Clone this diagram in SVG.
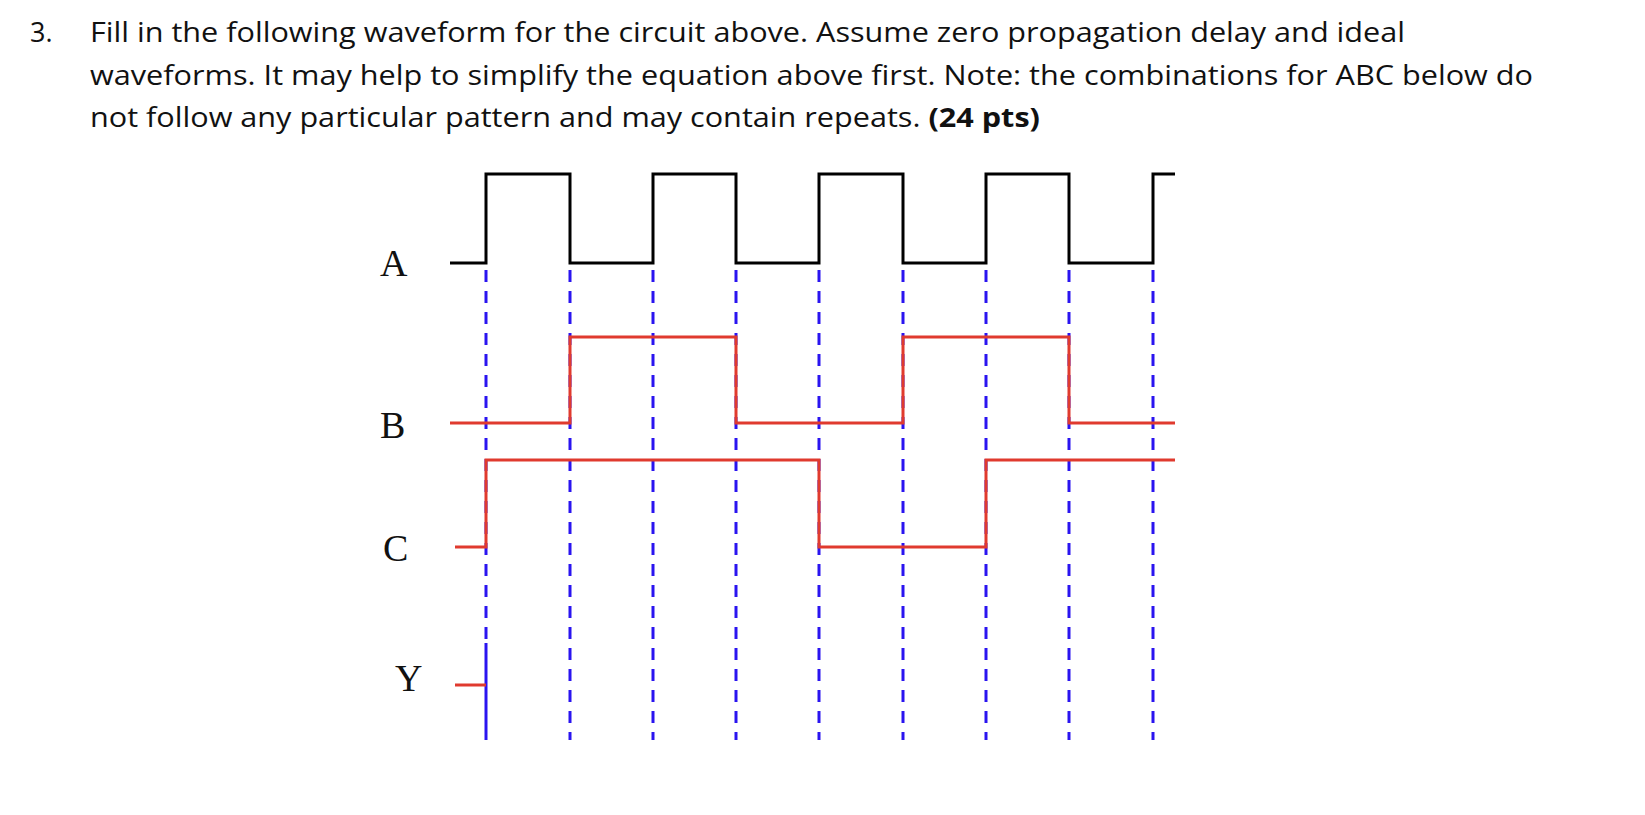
<svg xmlns="http://www.w3.org/2000/svg" width="1645" height="815" viewBox="0 0 1645 815">
<style>
.t{font-family:"Open Sans","Liberation Sans",sans-serif;font-size:27px;fill:#111}
.l{font-family:"Liberation Serif",serif;font-size:38px;fill:#111}
.d{stroke:#2a14f0;stroke-width:3;stroke-dasharray:12,9;fill:none}
.k{stroke:#000;stroke-width:3;fill:none}
.r{stroke:#e03a2e;stroke-width:3;fill:none}
</style>
<rect width="1645" height="815" fill="#fff"/>
<text class="t" x="30" y="42">3.</text>
<text class="t" x="90" y="42" textLength="1315" lengthAdjust="spacingAndGlyphs">Fill in the following waveform for the circuit above. Assume zero propagation delay and ideal</text>
<text class="t" x="90" y="85" textLength="1443" lengthAdjust="spacingAndGlyphs">waveforms. It may help to simplify the equation above first. Note: the combinations for ABC below do</text>
<text class="t" x="90" y="127" textLength="950" lengthAdjust="spacingAndGlyphs">not follow any particular pattern and may contain repeats. <tspan font-weight="bold">(24 pts)</tspan></text>
<g id="grid">
<path class="d" d="M486 270V640M570 270V740M653 270V740M736 270V740M819 270V740M903 270V740M986 270V740M1069 270V740M1153 270V740"/>
<path d="M486 643V740" stroke="#2a14f0" stroke-width="3"/>
</g>
<g id="waves">
<path class="k" d="M450 263H486V174H570V263H653V174H736V263H819V174H903V263H986V174H1069V263H1153V174H1175"/>
<path class="r" d="M450 423H570V337H736V423H903V337H1069V423H1175"/>
<path class="r" d="M455 547H486V460H819V547H986V460H1175"/>
<path class="r" d="M455 685H486"/>
</g>
<g id="labels">
<text class="l" x="380" y="276">A</text>
<text class="l" x="380" y="438">B</text>
<text class="l" x="383" y="561">C</text>
<text class="l" x="395" y="691">Y</text>
</g>
</svg>
